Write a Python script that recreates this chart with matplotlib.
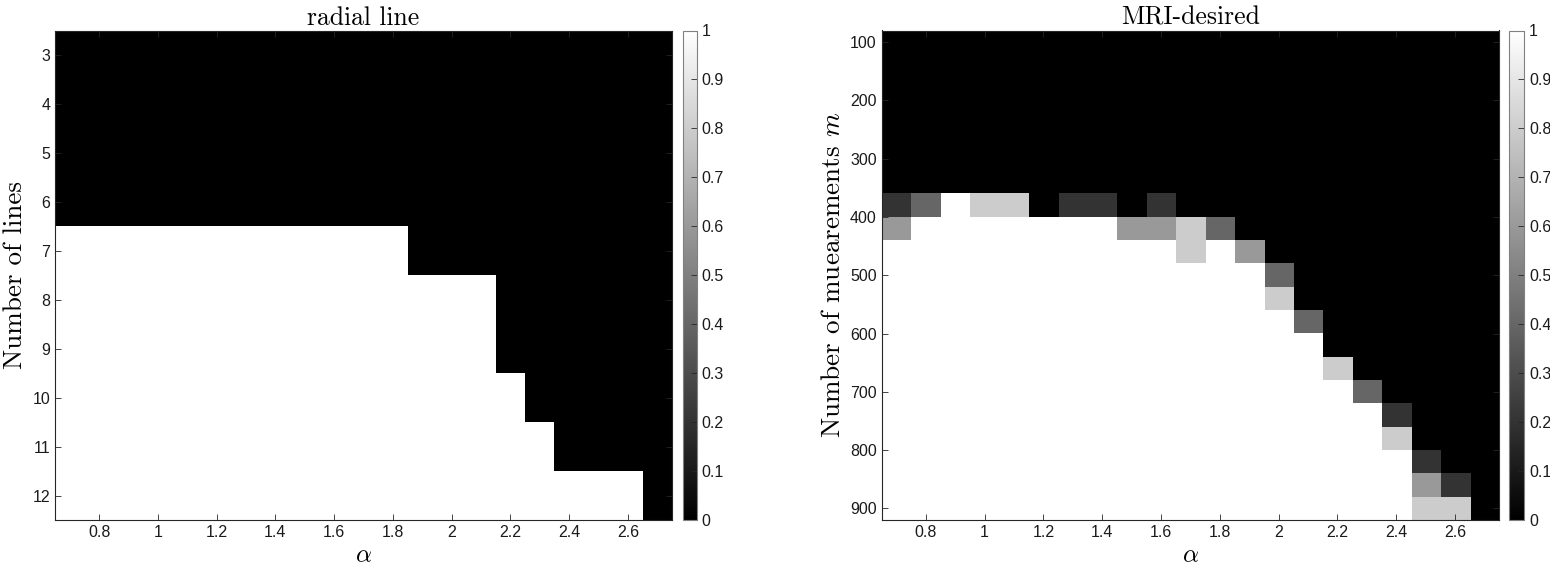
import numpy as np
import matplotlib
matplotlib.use("Agg")
import matplotlib.pyplot as plt
from matplotlib.ticker import FormatStrFormatter

plt.rcParams['font.family'] = ['Liberation Sans', 'DejaVu Sans']
plt.rcParams['mathtext.fontset'] = 'cm'

# valores de alpha (columnas) comunes a ambos paneles
alphas = [0.7, 0.8, 0.9, 1.0, 1.1, 1.2, 1.3, 1.4, 1.5, 1.6, 1.7,
          1.8, 1.9, 2.0, 2.1, 2.2, 2.3, 2.4, 2.5, 2.6, 2.7]

# panel izquierdo: radial line
num_lines = [3, 4, 5, 6, 7, 8, 9, 10, 11, 12]
radial = [
    [0, 0, 0, 0, 0, 0, 0, 0, 0, 0, 0, 0, 0, 0, 0, 0, 0, 0, 0, 0, 0],
    [0, 0, 0, 0, 0, 0, 0, 0, 0, 0, 0, 0, 0, 0, 0, 0, 0, 0, 0, 0, 0],
    [0, 0, 0, 0, 0, 0, 0, 0, 0, 0, 0, 0, 0, 0, 0, 0, 0, 0, 0, 0, 0],
    [0, 0, 0, 0, 0, 0, 0, 0, 0, 0, 0, 0, 0, 0, 0, 0, 0, 0, 0, 0, 0],
    [1, 1, 1, 1, 1, 1, 1, 1, 1, 1, 1, 1, 0, 0, 0, 0, 0, 0, 0, 0, 0],
    [1, 1, 1, 1, 1, 1, 1, 1, 1, 1, 1, 1, 1, 1, 1, 0, 0, 0, 0, 0, 0],
    [1, 1, 1, 1, 1, 1, 1, 1, 1, 1, 1, 1, 1, 1, 1, 0, 0, 0, 0, 0, 0],
    [1, 1, 1, 1, 1, 1, 1, 1, 1, 1, 1, 1, 1, 1, 1, 1, 0, 0, 0, 0, 0],
    [1, 1, 1, 1, 1, 1, 1, 1, 1, 1, 1, 1, 1, 1, 1, 1, 1, 0, 0, 0, 0],
    [1, 1, 1, 1, 1, 1, 1, 1, 1, 1, 1, 1, 1, 1, 1, 1, 1, 1, 1, 1, 0],
]

# panel derecho: MRI-desired
num_meas = [100, 140, 180, 220, 260, 300, 340, 380, 420, 460, 500,
            540, 580, 620, 660, 700, 740, 780, 820, 860, 900]
mri = [
    [0, 0, 0, 0, 0, 0, 0, 0, 0, 0, 0, 0, 0, 0, 0, 0, 0, 0, 0, 0, 0],
    [0, 0, 0, 0, 0, 0, 0, 0, 0, 0, 0, 0, 0, 0, 0, 0, 0, 0, 0, 0, 0],
    [0, 0, 0, 0, 0, 0, 0, 0, 0, 0, 0, 0, 0, 0, 0, 0, 0, 0, 0, 0, 0],
    [0, 0, 0, 0, 0, 0, 0, 0, 0, 0, 0, 0, 0, 0, 0, 0, 0, 0, 0, 0, 0],
    [0, 0, 0, 0, 0, 0, 0, 0, 0, 0, 0, 0, 0, 0, 0, 0, 0, 0, 0, 0, 0],
    [0, 0, 0, 0, 0, 0, 0, 0, 0, 0, 0, 0, 0, 0, 0, 0, 0, 0, 0, 0, 0],
    [0, 0, 0, 0, 0, 0, 0, 0, 0, 0, 0, 0, 0, 0, 0, 0, 0, 0, 0, 0, 0],
    [0.2, 0.4, 1, 0.8, 0.8, 0, 0.2, 0.2, 0, 0.2, 0, 0, 0, 0, 0, 0, 0, 0, 0, 0, 0],
    [0.6, 1, 1, 1, 1, 1, 1, 1, 0.6, 0.6, 0.8, 0.4, 0, 0, 0, 0, 0, 0, 0, 0, 0],
    [1, 1, 1, 1, 1, 1, 1, 1, 1, 1, 0.8, 1, 0.6, 0, 0, 0, 0, 0, 0, 0, 0],
    [1, 1, 1, 1, 1, 1, 1, 1, 1, 1, 1, 1, 1, 0.4, 0, 0, 0, 0, 0, 0, 0],
    [1, 1, 1, 1, 1, 1, 1, 1, 1, 1, 1, 1, 1, 0.8, 0, 0, 0, 0, 0, 0, 0],
    [1, 1, 1, 1, 1, 1, 1, 1, 1, 1, 1, 1, 1, 1, 0.4, 0, 0, 0, 0, 0, 0],
    [1, 1, 1, 1, 1, 1, 1, 1, 1, 1, 1, 1, 1, 1, 1, 0, 0, 0, 0, 0, 0],
    [1, 1, 1, 1, 1, 1, 1, 1, 1, 1, 1, 1, 1, 1, 1, 0.8, 0, 0, 0, 0, 0],
    [1, 1, 1, 1, 1, 1, 1, 1, 1, 1, 1, 1, 1, 1, 1, 1, 0.4, 0, 0, 0, 0],
    [1, 1, 1, 1, 1, 1, 1, 1, 1, 1, 1, 1, 1, 1, 1, 1, 1, 0.2, 0, 0, 0],
    [1, 1, 1, 1, 1, 1, 1, 1, 1, 1, 1, 1, 1, 1, 1, 1, 1, 0.8, 0, 0, 0],
    [1, 1, 1, 1, 1, 1, 1, 1, 1, 1, 1, 1, 1, 1, 1, 1, 1, 1, 0.2, 0, 0],
    [1, 1, 1, 1, 1, 1, 1, 1, 1, 1, 1, 1, 1, 1, 1, 1, 1, 1, 0.6, 0.2, 0],
    [1, 1, 1, 1, 1, 1, 1, 1, 1, 1, 1, 1, 1, 1, 1, 1, 1, 1, 0.8, 0.8, 0],
]

axis_col = '#262626'
serif = 'cmr10'


def extent_of(xs, ys):
    dx = (xs[1] - xs[0]) / 2
    dy = (ys[1] - ys[0]) / 2
    return [xs[0] - dx, xs[-1] + dx, ys[-1] + dy, ys[0] - dy]


def draw(ax, cax, data, rows, title, ylabel, yticks):
    im = ax.imshow(np.array(data, dtype=float), cmap='gray', vmin=0, vmax=1,
                   extent=extent_of(alphas, rows), aspect='auto',
                   interpolation='nearest', origin='upper')
    ax.set_xticks([0.8, 1.0, 1.2, 1.4, 1.6, 1.8, 2.0, 2.2, 2.4, 2.6])
    ax.xaxis.set_major_formatter(FormatStrFormatter('%g'))
    ax.set_yticks(yticks)
    ax.tick_params(direction='in', top=True, right=True, labelsize=11.5,
                   length=4, width=0.6, color=axis_col, labelcolor='#1a1a1a')
    for s in ax.spines.values():
        s.set_color(axis_col)
        s.set_linewidth(0.8)
    ax.set_title(title, family=serif, fontsize=18.5, pad=4)
    ax.set_xlabel(r'$\alpha$', fontsize=18, labelpad=2)
    ax.set_ylabel(ylabel, family=serif, fontsize=19.5, labelpad=4)

    cb = plt.colorbar(im, cax=cax)
    cb.set_ticks(np.linspace(0, 1, 11))
    cb.ax.yaxis.set_major_formatter(FormatStrFormatter('%g'))
    cb.ax.tick_params(direction='in', labelsize=11.5, length=4, width=0.6,
                      color=axis_col, labelcolor='#1a1a1a')
    cb.outline.set_edgecolor('#808080')
    cb.outline.set_linewidth(0.8)


fig = plt.figure(figsize=(15.5, 5.68), dpi=100)
bottom, height = 48 / 568, 489.5 / 568
ax1 = fig.add_axes([55 / 1550, bottom, 617 / 1550, height])
cax1 = fig.add_axes([682.7 / 1550, bottom, 14 / 1550, height])
ax2 = fig.add_axes([881.7 / 1550, bottom, 617.5 / 1550, height])
cax2 = fig.add_axes([1509.3 / 1550, bottom, 15 / 1550, height])

draw(ax1, cax1, radial, num_lines, 'radial line', 'Number of lines',
     [3, 4, 5, 6, 7, 8, 9, 10, 11, 12])
draw(ax2, cax2, mri, num_meas, 'MRI-desired', r'Number of muearements $m$',
     [100, 200, 300, 400, 500, 600, 700, 800, 900])

fig.savefig('out.png', dpi=100)
